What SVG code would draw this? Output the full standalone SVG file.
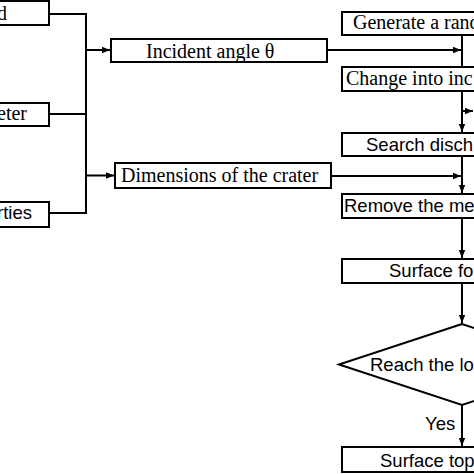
<svg xmlns="http://www.w3.org/2000/svg" width="474" height="474" viewBox="0 0 474 474">
<defs>
<style>
.box{fill:#fff;stroke:#000;stroke-width:2}
.ln{fill:none;stroke:#000;stroke-width:2}
.serif{font-family:"Liberation Serif","Times New Roman",serif;font-size:20px;fill:#000}
.sans{font-family:"Liberation Sans",Arial,sans-serif;font-size:18.5px;fill:#000}
</style>
<marker id="ah" viewBox="0 0 10 10" refX="10" refY="5" markerWidth="4" markerHeight="4" orient="auto" markerUnits="strokeWidth">
<path d="M0,1 L10,5 L0,9 Z" fill="#000"/>
</marker>
</defs>
<rect width="474" height="474" fill="#fff"/>
<g id="connectors">
<path class="ln" d="M49,14 H86 V213 H49 M86,114 H49"/>
<path class="ln" d="M86,50 H110" marker-end="url(#ah)"/>
<path class="ln" d="M86,175.5 H114" marker-end="url(#ah)"/>
<path class="ln" d="M327,50 H461" marker-end="url(#ah)"/>
<path class="ln" d="M462,35 V67"/>
<path class="ln" d="M462,91 V132" marker-end="url(#ah)"/>
<path class="ln" d="M462,111 H473" marker-end="url(#ah)"/>
<path class="ln" d="M331,176 H461" marker-end="url(#ah)"/>
<path class="ln" d="M462,156 V193" marker-end="url(#ah)"/>
<path class="ln" d="M462,218 V258" marker-end="url(#ah)"/>
<path class="ln" d="M462,283 V323" marker-end="url(#ah)"/>
<path class="ln" d="M462,405 V446" marker-end="url(#ah)"/>
</g>
<g id="n1"><rect class="box" x="-20" y="1" width="69" height="24"/><text class="serif" x="7" y="20" text-anchor="end">d</text></g>
<g id="n2"><rect class="box" x="-60" y="103" width="109" height="23"/><text class="serif" x="27" y="119.5" text-anchor="end">eter</text></g>
<g id="n3"><rect class="box" x="-80" y="202" width="129" height="25"/><text class="sans" x="32" y="219" text-anchor="end">rties</text></g>
<g id="n4"><rect class="box" x="111" y="39" width="216" height="23"/><text class="serif" x="146" y="57.5">Incident angle θ</text></g>
<g id="n5"><rect class="box" x="115" y="163" width="216" height="25"/><text class="serif" x="121" y="182">Dimensions of the crater</text></g>
<g id="n6"><rect class="box" x="342" y="12" width="200" height="23"/><text class="serif" x="353" y="29">Generate a rand</text></g>
<g id="n7"><rect class="box" x="342" y="67" width="200" height="24"/><text class="serif" x="346" y="85">Change into inc</text></g>
<g id="n8"><rect class="box" x="342" y="133" width="200" height="23"/><text class="sans" x="366" y="151">Search disch</text></g>
<g id="n9"><rect class="box" x="342" y="194" width="200" height="24"/><text class="sans" x="344" y="212">Remove the me</text></g>
<g id="n10"><rect class="box" x="342" y="259" width="200" height="24"/><text class="sans" x="389" y="277">Surface fo</text></g>
<g id="n11"><polygon class="box" points="462,324 339,364.5 462,405 585,364.5"/><text class="sans" x="370" y="371">Reach the lo</text></g>
<g id="n12"><text class="sans" x="425" y="430">Yes</text></g>
<g id="n13"><rect class="box" x="342" y="447" width="200" height="25"/><text class="sans" x="380" y="467">Surface top</text></g>
</svg>
